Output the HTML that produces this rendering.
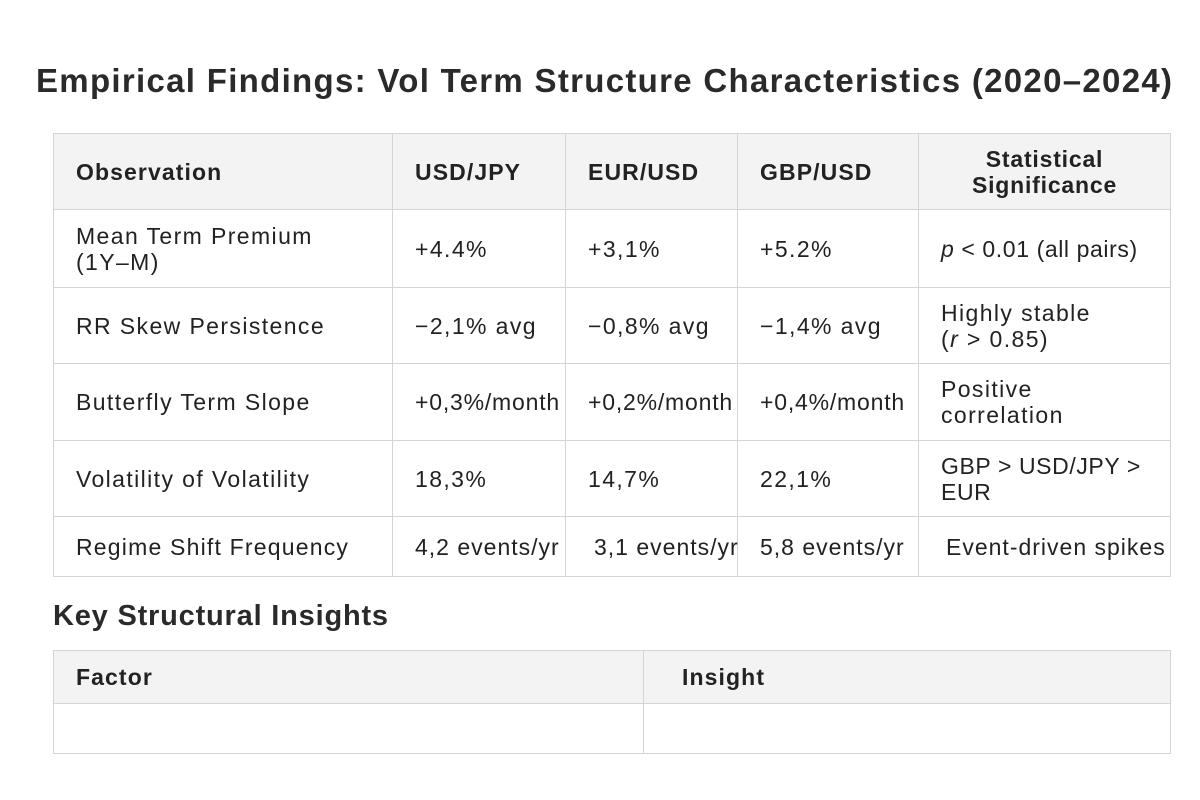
<!DOCTYPE html>
<html><head><meta charset="utf-8"><style>
body{margin:0;width:1200px;height:800px;background:#fff;font-family:"Liberation Sans",sans-serif;color:#222;position:relative;overflow:hidden}
h1{position:absolute;left:36px;top:62px;margin:0;font-size:33px;font-weight:bold;color:#2a2a2a;white-space:nowrap;letter-spacing:1.3px}
h2{position:absolute;left:53px;top:600px;margin:0;font-size:29px;font-weight:bold;color:#2a2a2a;letter-spacing:0.8px}
table{position:absolute;border-collapse:collapse;left:53px}
td,th{border:1.5px solid #d4d4d4;padding:0 0 0 22px;font-size:23px;text-align:left;vertical-align:middle;line-height:26px;letter-spacing:1.4px;white-space:nowrap}
th{background:#f3f3f3;font-weight:bold;letter-spacing:1.1px}
#t1{top:133px;width:1117px;table-layout:fixed}
#t2{top:650px;width:1117px;table-layout:fixed}
</style></head><body>
<h1>Empirical Findings: Vol Term Structure Characteristics (2020–2024)</h1>
<table id="t1">
<colgroup><col style="width:339px"><col style="width:173px"><col style="width:172px"><col style="width:181px"><col style="width:252px"></colgroup>
<tr style="height:76px"><th>Observation</th><th>USD/JPY</th><th>EUR/USD</th><th>GBP/USD</th><th style="text-align:center;padding:0;letter-spacing:0.8px">Statistical<br>Significance</th></tr>
<tr style="height:78px"><td>Mean Term Premium<br>(1Y–M)</td><td>+4.4%</td><td>+3,1%</td><td>+5.2%</td><td style="letter-spacing:0.6px"><i>p</i> &lt; 0.01 (all pairs)</td></tr>
<tr style="height:76px"><td>RR Skew Persistence</td><td>−2,1% avg</td><td>−0,8% avg</td><td>−1,4% avg</td><td>Highly stable<br>(<i>r</i> &gt; 0.85)</td></tr>
<tr style="height:77px"><td>Butterfly Term Slope</td><td style="letter-spacing:0.8px">+0,3%/month</td><td style="letter-spacing:0.8px">+0,2%/month</td><td style="letter-spacing:0.8px">+0,4%/month</td><td>Positive<br>correlation</td></tr>
<tr style="height:76px"><td>Volatility of Volatility</td><td>18,3%</td><td>14,7%</td><td>22,1%</td><td style="letter-spacing:0.6px">GBP &gt; USD/JPY &gt;<br>EUR</td></tr>
<tr style="height:60px"><td style="letter-spacing:1.2px">Regime Shift Frequency</td><td style="padding-left:22px;letter-spacing:1.0px">4,2 events/yr</td><td style="padding-left:28px;letter-spacing:1.0px">3,1 events/yr</td><td style="letter-spacing:1.0px">5,8 events/yr</td><td style="padding-left:27px;letter-spacing:1.0px">Event-driven spikes</td></tr>
</table>
<h2>Key Structural Insights</h2>
<table id="t2">
<colgroup><col style="width:590px"><col style="width:527px"></colgroup>
<tr style="height:53px"><th>Factor</th><th style="padding-left:38px">Insight</th></tr>
<tr style="height:50px"><td></td><td></td></tr>
</table>
</body></html>
